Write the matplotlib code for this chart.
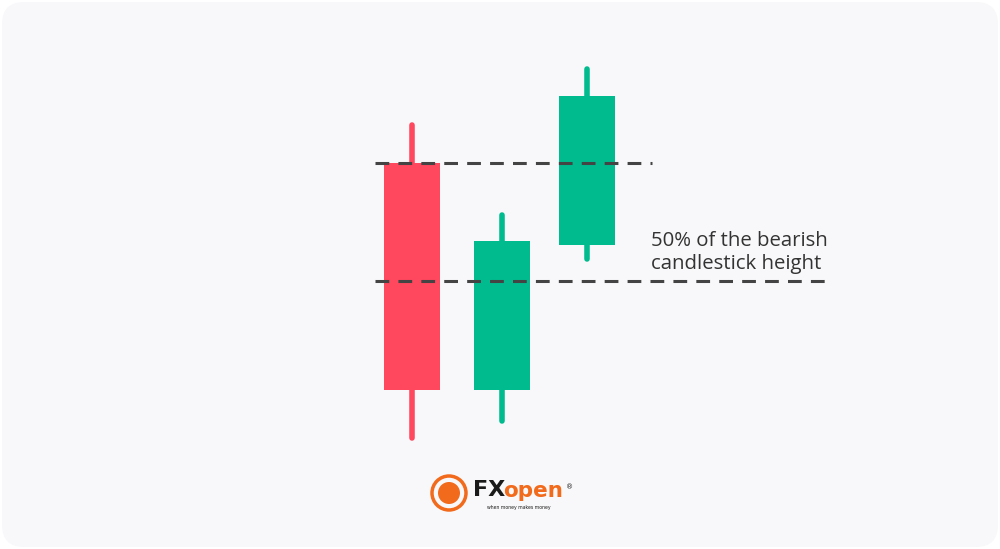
import numpy as np
import matplotlib.pyplot as plt
from matplotlib.patches import FancyBboxPatch, Circle

# candle data (price units)
x_pos = [412, 502, 587]
opens = [386, 159, 304]
closes = [159, 308, 453]
highs = [424, 334, 480]
lows = [111, 128, 290]
colors = ['#ff475e', '#00bb8e', '#00bb8e']

level_top = 386       # open of bearish candle
level_mid = 268       # 50% level
label = '50% of the bearish\ncandlestick height'

fig = plt.figure(figsize=(10, 5.49), dpi=100)
fig.patch.set_facecolor('white')
ax = fig.add_axes([0, 0, 1, 1])
ax.set_xlim(0, 1000)
ax.set_ylim(0, 549)
ax.axis('off')

bg = FancyBboxPatch((2, 2), 996, 545, boxstyle='round,pad=0,rounding_size=22',
                    fc='#f8f8fa', ec='none', zorder=0)
ax.add_patch(bg)

w = 56
for x, o, c, h, l, col in zip(x_pos, opens, closes, highs, lows, colors):
    ax.plot([x, x], [l, h], color=col, lw=4, solid_capstyle='round', zorder=2)
    ax.bar(x, abs(c - o), bottom=min(o, c), width=w, color=col, zorder=3)

ax.plot([375, 652], [level_top, level_top], color='#444444', lw=2.2,
        dashes=(4.5, 3), zorder=4)
ax.plot([375, 828], [level_mid, level_mid], color='#444444', lw=2.2,
        dashes=(4.5, 3), zorder=4)

ax.text(651, 296, label, fontsize=14.7, family='Open Sans', color='#333333',
        va='center', ha='left', linespacing=1.2)

# logo
ax.add_patch(Circle((449, 56), 17, fc='none', ec='#f26a1b', lw=2.5, zorder=5))
ax.add_patch(Circle((449, 56), 11, fc='#f26a1b', ec='none', zorder=5))
ax.text(473, 59, 'FX', fontsize=16, fontweight='heavy', family='DejaVu Sans',
        color='#1a1a1a', va='center', ha='left')
ax.text(503, 58, 'open', fontsize=15.5, fontweight='bold', family='DejaVu Sans',
        color='#f26a1b', va='center', ha='left')
ax.text(566, 62, '®', fontsize=5, color='#1a1a1a', va='center', ha='left')
ax.text(487, 42, 'when money makes money', fontsize=3.3, color='#1a1a1a',
        va='center', ha='left')

fig.savefig('out.png', dpi=100, facecolor='white')
